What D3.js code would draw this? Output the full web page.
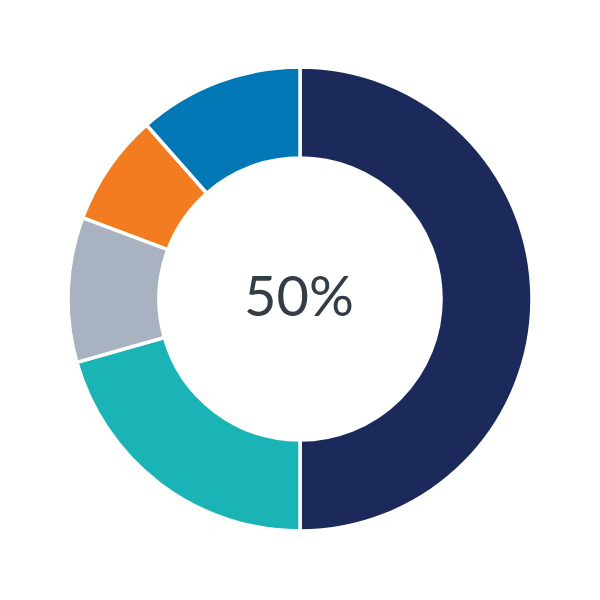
<!DOCTYPE html>
<html>
<head>
<meta charset="utf-8">
<script src="https://cdn.jsdelivr.net/npm/d3@7"></script>
<style>
  body { margin: 0; background: #fff; }
</style>
</head>
<body>
<div id="canvas"></div>
<script>
"use strict"

// slices, clockwise from 12 o'clock
let categories = ["A", "B", "C", "D", "E"]
let values = [50, 20.6, 10.1, 7.8, 11.5]
let colours = ["#1b2a5a", "#1ab4b6", "#a8b2c0", "#f37c20", "#0177b6"]
let centreLabel = "50%"

let svgWidth = 600
let svgHeight = 600

let drawing = d3.select("#canvas")
    .append("svg")
    .attr("width", svgWidth)
    .attr("height", svgHeight)

let colour = d3.scaleOrdinal()
    .domain(categories)
    .range(colours)

let pie = d3.pie()
    .sort(null)
    .value(d => d.value)

let arc = d3.arc()
    .innerRadius(141)
    .outerRadius(232)

let slices = pie(categories.map((c, i) => ({ key: c, value: values[i] })))

let donut = drawing.append("g")
    .attr("transform", "translate(300,299)")

donut.selectAll("path")
    .data(slices)
    .join("path")
    .attr("d", arc)
    .attr("fill", d => colour(d.data.key))
    .attr("stroke", "white")
    .attr("stroke-width", 3.5)
    .attr("stroke-linejoin", "miter")

donut.append("text")
    .attr("x", -1)
    .attr("y", 17)
    .attr("text-anchor", "middle")
    .attr("font-family", "Lato, sans-serif")
    .attr("font-size", 56)
    .attr("fill", "#333d47")
    .text(centreLabel)
</script>
</body>
</html>
